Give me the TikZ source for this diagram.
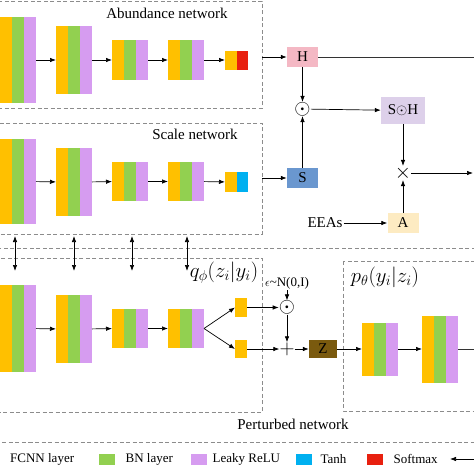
\documentclass[tikz,border=0pt]{standalone}
\usepackage{fontspec}
\setmainfont{Liberation Serif}
\usetikzlibrary{arrows.meta,positioning}

\definecolor{fcnn}{HTML}{FFC000}
\definecolor{bnc}{HTML}{92D050}
\definecolor{reluc}{HTML}{D69CF0}
\definecolor{tanhc}{HTML}{00B0F0}
\definecolor{softc}{HTML}{E8200F}
\definecolor{hpink}{HTML}{F4B8C4}
\definecolor{sohc}{HTML}{DDD0EA}
\definecolor{sblue}{HTML}{6A97CF}
\definecolor{ayel}{HTML}{FDEBC2}
\definecolor{zbrown}{HTML}{7A5A0E}

\tikzset{
  stripe/.style={minimum width=12pt, inner sep=0pt, outer sep=0pt, draw=none},
  net/.style={draw=gray!90, dash pattern=on 4pt off 2.5pt, line width=0.8pt},
  arr/.style={-{Latex[length=6pt,width=4.5pt]}, line width=0.7pt},
  darr/.style={{Latex[length=6pt,width=4.5pt]}-{Latex[length=6pt,width=4.5pt]}, line width=0.7pt},
  lne/.style={line width=0.7pt, draw=black!80},
  var/.style={minimum width=31pt, minimum height=20pt, inner sep=0pt, font=\fontsize{15}{18}\selectfont},
  op/.style={inner sep=0pt, font=\fontsize{20}{22}\selectfont},
  lbl/.style={inner sep=1pt, font=\fontsize{15}{18}\selectfont},
  leg/.style={inner sep=0pt, anchor=west, font=\fontsize{13}{15}\selectfont},
  legsq/.style={minimum width=16pt, minimum height=11pt, inner sep=0pt, anchor=west},
}

% one FCNN + BN + Leaky ReLU block: name, left x, centre y, height
\newcommand{\layer}[4]{%
  \node[stripe, fill=fcnn, minimum height=#4pt] (#1y) at (#2+6,#3) {};
  \node[stripe, fill=bnc, minimum height=#4pt, right=0pt of #1y] (#1g) {};
  \node[stripe, fill=reluc, minimum height=#4pt, right=0pt of #1g] (#1p) {};
}

\begin{document}
\begin{tikzpicture}[x=1pt, y=-1pt]
\useasboundingbox (0,0) rectangle (474,474);
\clip (0,0) rectangle (474,474);

% dashed frames
\draw[net] (-5,1) rectangle (262,108);
\draw[net] (-5,123) rectangle (262,234);
\draw[net] (-5,248) rectangle (480,442);
\draw[net] (-5,258) rectangle (262,412);
\draw[net] (343,261) rectangle (480,411);

\node[lbl] (abn) at (167,13) {Abundance network};
\node[lbl] (scn) at (195,134) {Scale network};
\node[lbl] (ptn) at (293,424) {Perturbed network};
\node[inner sep=0pt, font=\fontsize{20}{22}\selectfont] (qphi) at (224,273) {$q_\phi(z_i|y_i)$};
\node[inner sep=0pt, font=\fontsize{20}{22}\selectfont] (ptheta) at (385,277) {$p_\theta(y_i|z_i)$};

% abundance network
\layer{a1}{0}{60}{86}
\layer{a2}{56}{60}{68}
\layer{a3}{112}{60}{40}
\layer{a4}{168}{60}{40}
\node[stripe, fill=fcnn, minimum height=19pt] (a5y) at (231,60) {};
\node[stripe, fill=softc, minimum width=11pt, minimum height=19pt, right=0pt of a5y] (a5r) {};
\draw[arr] (a1p) -- (a2y);
\draw[arr] (a2p) -- (a3y);
\draw[arr] (a3p) -- (a4y);
\draw[arr] (a4p) -- (a5y);

% scale network
\layer{s1}{0}{181.5}{85}
\layer{s2}{56}{182}{68}
\layer{s3}{112}{181.5}{39}
\layer{s4}{168}{181.5}{39}
\node[stripe, fill=fcnn, minimum height=20pt] (s5y) at (231,182) {};
\node[stripe, fill=tanhc, minimum width=11pt, minimum height=20pt, right=0pt of s5y] (s5b) {};
\draw[arr] (s1p) -- (s2y);
\draw[arr] (s2p) -- (s3y);
\draw[arr] (s3p) -- (s4y);
\draw[arr] (s4p) -- (s5y);

% H, S and the product
\node[var, fill=hpink] (H) at (302.5,57) {H};
\node[var, fill=sblue] (S) at (302.5,178) {S};
\node[op] (od1) at (302.5,109) {$\odot$};
\node[var, fill=sohc, minimum width=44pt, minimum height=27pt] (SH) at (403,110.5) {S$\odot$H};
\node[op] (mul) at (403,173) {$\times$};
\node[var, fill=ayel] (A) at (403,223) {A};
\node[lbl] (eeas) at (325,223) {EEAs};
\coordinate (abo) at (262,57);
\coordinate (sco) at (262,178);
\coordinate (hout) at (475,57);
\coordinate (mout) at (473,173);
\draw[arr] (abo) -- (H);
\draw[lne] (H) -- (hout);
\draw[arr] (sco) -- (S);
\draw[arr] (H) -- (od1);
\draw[arr] (S) -- (od1);
\draw[arr] (od1) -- (SH);
\draw[arr] (SH) -- (mul);
\draw[arr] (A) -- (mul);
\draw[arr] (eeas) -- (A);
\draw[arr] (mul) -- (mout);

% shared weights
\foreach \x [count=\i] in {15,74,132,187}{
  \coordinate (up\i) at (\x,236);
  \coordinate (dn\i) at (\x,271);
  \draw[darr] (up\i) -- (dn\i);
}

% perturbed network
\layer{p1}{0}{328.5}{87}
\layer{p2}{56}{329}{68}
\layer{p3}{112}{328.5}{39}
\layer{p4}{168}{328.5}{39}
\draw[arr] (p1p) -- (p2y);
\draw[arr] (p2p) -- (p3y);
\draw[arr] (p3p) -- (p4y);
\node[stripe, fill=fcnn, minimum height=19pt] (pmu) at (241,307.5) {};
\node[stripe, fill=fcnn, minimum height=18pt] (psig) at (241,349) {};
\draw[arr] (p4p.east) -- (pmu.west);
\draw[arr] (p4p.east) -- (psig.west);
\node[inner sep=1pt, font=\fontsize{13}{15}\selectfont] (eps) at (287,283) {$\epsilon$\textasciitilde N(0,I)};
\node[op] (od2) at (287,307.5) {$\odot$};
\node[op] (plus) at (287,349) {$+$};
\node[var, fill=zbrown, minimum width=28pt, minimum height=18pt] (Z) at (323,349) {Z};
\draw[arr] (eps) -- (od2);
\draw[arr] (pmu) -- (od2);
\draw[arr] (od2) -- (plus);
\draw[arr] (psig) -- (plus);
\draw[arr] (plus) -- (Z);

% decoder
\layer{d1}{362}{349}{53}
\layer{d2}{422}{349}{67}
\coordinate (dout) at (475,349);
\draw[arr] (Z) -- (d1y);
\draw[arr] (d1p) -- (d2y);
\draw[lne] (d2p) -- (dout);

% legend
\node[leg] (lfc) at (10,459) {FCNN layer};
\node[legsq, fill=bnc] (lbn) at (99,459) {};
\node[leg, right=10pt of lbn] (tbn) {BN layer};
\node[legsq, fill=reluc] (lre) at (191,459) {};
\node[leg, right=5pt of lre] (tre) {Leaky ReLU};
\node[legsq, fill=tanhc] (lta) at (296,459) {};
\node[leg, right=8pt of lta] (tta) {Tanh};
\node[legsq, fill=softc] (lso) at (367,459) {};
\node[leg, right=10pt of lso] (tso) {Softmax};
\coordinate (lgin) at (475,459);
\coordinate (lgtip) at (450,459);
\draw[arr] (lgin) -- (lgtip);
\end{tikzpicture}
\end{document}
